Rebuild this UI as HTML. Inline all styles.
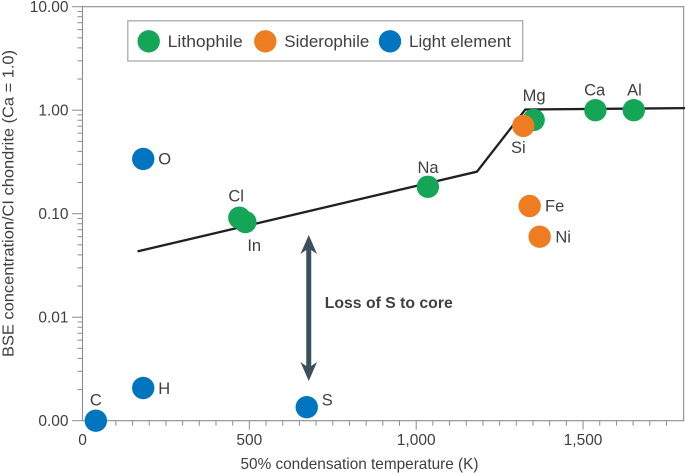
<!DOCTYPE html>
<html lang="en">
<head>
<meta charset="utf-8">
<title>BSE concentration vs condensation temperature</title>
<style>
html,body{margin:0;padding:0;background:#fff;width:685px;height:473px;overflow:hidden}
svg{display:block;font-family:"Liberation Sans",sans-serif}
text{fill:#3f3f41}
</style>
</head>
<body>
<svg id="chart" width="685" height="473" viewBox="0 0 685 473" xmlns="http://www.w3.org/2000/svg">
<g id="axes"></g>
<g id="series"></g>
<g id="legend"></g>
</svg>
<script>
// ---- chart data ----
const elements = ["C","H","S","O","Cl","In","Na","Mg","Si","Ca","Al","Fe","Ni"];
const temperatures = [40,182,672,182,470,488,1035,1352,1321,1537,1652,1340,1370];
const abundances = [0.001,0.00207,0.00135,0.338,0.0915,0.083,0.182,0.806,0.706,1.0,1.0,0.1187,0.06];
const groups = ["light","light","light","light","litho","litho","litho","litho","sidero","litho","litho","sidero","sidero"];
const trendTemperatures = [165,1182,1327,1807];
const trendAbundances = [0.0432,0.2547,1.015,1.047];
const arrowTemperature = 678;
const arrowAbundances = [0.0623,0.00242];
const xTickValues = [0,500,1000,1500];
const xTickLabels = ["0","500","1,000","1,500"];
const yTickValues = [0.001,0.01,0.1,1,10];
const yTickLabels = ["0.00","0.01","0.10","1.00","10.00"];
const legendGroups = ["litho","sidero","light"];
const legendLabels = ["Lithophile","Siderophile","Light element"];

// ---- scales ----
const xScale = t => 82.5 + t * 0.3337;
const yScale = v => 420.7 - 103.5 * (Math.log10(v) + 3);
const colors = {litho:"#14a556",sidero:"#ee7d22",light:"#0075bf"};
const labelOffset = {C:[-6,-15],H:[15,6],S:[15,-1.6],O:[15,5.7],Cl:[-11,-16],In:[2,28.7],Na:[-10.4,-13.7],Mg:[-11,-19],Si:[-12.3,27.3],Ca:[-11.3,-14.7],Al:[-6.6,-14.7],Fe:[15.4,5.4],Ni:[15.7,5.7]};
const NS = "http://www.w3.org/2000/svg";
function mk(parent, tag, attrs, txt){
  const e = document.createElementNS(NS, tag);
  for (const k in attrs) e.setAttribute(k, attrs[k]);
  if (txt !== undefined) e.textContent = txt;
  parent.appendChild(e);
  return e;
}
const axes = document.getElementById("axes");
const series = document.getElementById("series");
const legend = document.getElementById("legend");
const axisColor = "#8c8c8c";

// frame
const frame = mk(axes,"rect",{x:xScale(0),y:yScale(10),width:xScale(1800)-xScale(0)+0.5,height:yScale(0.001)-yScale(10),fill:"none",stroke:axisColor,"stroke-width":1.1});



// x ticks
for (let t = 50; t < 1800; t += 50) {
  const major = t % 500 === 0;
  const tick = mk(axes,"line",{x1:xScale(t),x2:xScale(t),y1:yScale(0.001),y2:yScale(0.001)+(major?9:5),stroke:axisColor,"stroke-width":1});
  
  
}
xTickValues.forEach((t,i) => {
  const lab = mk(axes,"text",{x:xScale(t),y:445,"text-anchor":"middle","font-size":15.5},xTickLabels[i]);
  
  
});

// y ticks
yTickValues.forEach((v,i) => {
  const major = mk(axes,"line",{x1:72,x2:xScale(0),y1:yScale(v),y2:yScale(v),stroke:axisColor,"stroke-width":1});
  
  
  const lab = mk(axes,"text",{x:68.5,y:yScale(v)+5.5,"text-anchor":"end","font-size":15.5},yTickLabels[i]);
  
  
  if (i < yTickValues.length-1) {
    for (let m = 2; m < 10; m++) {
      const minor = mk(axes,"line",{x1:77.5,x2:xScale(0),y1:yScale(v*m),y2:yScale(v*m),stroke:axisColor,"stroke-width":1});
      
      
    }
  }
});

// axis titles
const xTitle = mk(axes,"text",{x:240.5,y:469,"font-size":16,textLength:238,lengthAdjust:"spacingAndGlyphs"},"50% condensation temperature (K)");


const yTitle = mk(axes,"text",{transform:"translate(13.5,357) rotate(-90)","font-size":16,textLength:307,lengthAdjust:"spacingAndGlyphs"},"BSE concentration/CI chondrite (Ca = 1.0)");



// trend line
const trend = mk(series,"polyline",{points:trendTemperatures.map((t,i)=>xScale(t)+","+yScale(trendAbundances[i])).join(" "),fill:"none",stroke:"#231f20","stroke-width":2.3,"stroke-linejoin":"miter"});



// double arrow
const ax = xScale(arrowTemperature), ay1 = yScale(arrowAbundances[0]), ay2 = yScale(arrowAbundances[1]);
const arrow = mk(series,"path",{d:`M${ax} ${ay1} L${ax+8.3} ${ay1+19} L${ax+2.5} ${ay1+15} L${ax+2.5} ${ay2-15} L${ax+8.3} ${ay2-19} L${ax} ${ay2} L${ax-8.3} ${ay2-19} L${ax-2.5} ${ay2-15} L${ax-2.5} ${ay1+15} L${ax-8.3} ${ay1+19} Z`,fill:"#3c4f5c"});


const note = mk(series,"text",{x:ax+16,y:308,"font-size":16,"font-weight":"bold",textLength:128,lengthAdjust:"spacingAndGlyphs"},"Loss of S to core");



// points
elements.forEach((el,i) => {
  const cx = xScale(temperatures[i]), cy = yScale(abundances[i]);
  const dot = mk(series,"circle",{cx:cx,cy:cy,r:11.2,fill:colors[groups[i]]});
  
  
  const off = labelOffset[el];
  const lab = mk(series,"text",{x:cx+off[0],y:cy+off[1],"font-size":16.5},el);
  
  
});

// legend
const box = mk(legend,"rect",{x:127.8,y:20.8,width:394.9,height:40.2,fill:"#fff",stroke:"#a9a9a9","stroke-width":1.3});


const legendDotX = [148.7,265.3,390];
legendGroups.forEach((g,i) => {
  const dot = mk(legend,"circle",{cx:legendDotX[i],cy:41.3,r:11.2,fill:colors[g]});
  
  
  const lab = mk(legend,"text",{x:legendDotX[i]+19,y:47,"font-size":17,textLength:[75,85,102][i],lengthAdjust:"spacingAndGlyphs"},legendLabels[i]);
  
  
});
</script>
</body>
</html>
